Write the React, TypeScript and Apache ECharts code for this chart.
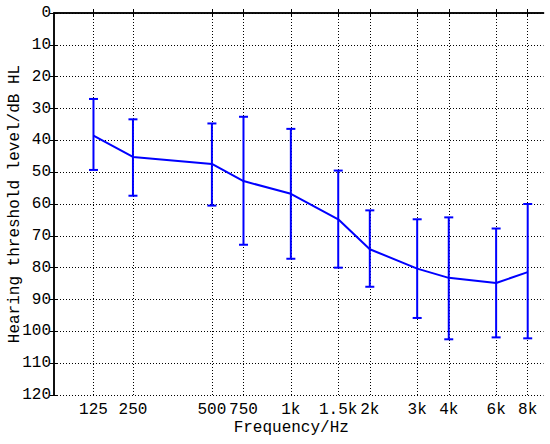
import React, { useEffect, useRef } from "react";
import * as echarts from "echarts";

const freqLabels = ["125", "250", "500", "750", "1k", "1.5k", "2k", "3k", "4k", "6k", "8k"];
const xPos = [1, 2, 4, 4.8, 6, 7.2, 8, 9.2, 10, 11.2, 12];
const meanLevel = [38.5, 45.2, 47.4, 52.8, 56.8, 64.8, 74.2, 80.3, 83.2, 84.8, 81.4];
const upperLevel = [27.0, 33.4, 34.7, 32.6, 36.4, 49.5, 62.0, 64.8, 64.2, 67.7, 60.0];
const lowerLevel = [49.3, 57.4, 60.5, 72.8, 77.2, 80.0, 86.0, 95.8, 102.5, 101.9, 102.2];
const yTicks = [0, 10, 20, 30, 40, 50, 60, 70, 80, 90, 100, 110, 120];

const FONT = "'Liberation Mono', 'Courier New', monospace";
const BLUE = "#0000ff";

export default function App() {
  const ref = useRef<HTMLDivElement>(null);
  useEffect(() => {
    const chart = echarts.init(ref.current!, null, { renderer: "svg" });
    const fmtX = (v: number) => {
      const i = xPos.findIndex((p) => Math.abs(p - v) < 1e-6);
      return i >= 0 ? freqLabels[i] : "";
    };
    const axisLine = { show: true, lineStyle: { color: "#000", width: 1.5 } };
    const dotted = { show: true, lineStyle: { color: "#000", width: 1, type: [1, 2] as any } };
    const txt = { fontFamily: FONT, fontSize: 16, color: "#000", fontWeight: "normal" as const };
    chart.setOption({
      animation: false,
      backgroundColor: "#fff",
      grid: { left: 54, top: 13, right: 6.5, bottom: 49, containLabel: false, outerBoundsMode: "none" } as any,
      xAxis: [
        {
          type: "value",
          min: 0,
          max: 12.4,
          position: "bottom",
          name: "Frequency/Hz",
          nameLocation: "middle",
          nameGap: 25,
          nameMoveOverlap: false,
          nameTextStyle: { ...txt, padding: [0, 15, 0, 0] },
          axisLine,
          axisTick: { show: true, inside: true, length: 4, customValues: xPos, lineStyle: { color: "#000" } },
          axisLabel: { customValues: xPos, formatter: fmtX, ...txt, margin: 7 },
          splitLine: { ...dotted, customValues: xPos } as any,
        } as any,
        {
          type: "value",
          min: 0,
          max: 12.4,
          position: "top",
          axisLine,
          axisTick: { show: true, inside: true, length: 4, customValues: xPos, lineStyle: { color: "#000" } },
          axisLabel: { show: false },
          splitLine: { show: false },
        },
      ],
      yAxis: [
        {
          type: "value",
          min: 0,
          max: 120,
          interval: 10,
          inverse: true,
          position: "left",
          name: "Hearing threshold level/dB HL",
          nameLocation: "middle",
          nameGap: 31,
          nameMoveOverlap: false,
          nameRotate: 90,
          nameTextStyle: txt,
          axisLine,
          axisTick: { show: true, inside: true, length: 4, lineStyle: { color: "#000" } },
          axisLabel: { ...txt, margin: 3, formatter: (v: number) => (yTicks.includes(v) ? String(v) : "") },
          splitLine: dotted,
        } as any,
        {
          type: "value",
          min: 0,
          max: 120,
          interval: 10,
          inverse: true,
          position: "right",
          axisLine,
          axisTick: { show: true, inside: true, length: 4, lineStyle: { color: "#000" } },
          axisLabel: { show: false },
          splitLine: { show: false },
        },
      ],
      series: [
        {
          type: "line",
          data: xPos.map((x, i) => [x, meanLevel[i]]),
          showSymbol: false,
          symbol: "none",
          lineStyle: { color: BLUE, width: 2 },
          z: 3,
        },
        {
          type: "custom",
          data: xPos.map((x, i) => [x, upperLevel[i], lowerLevel[i]]),
          encode: { x: 0, y: [1, 2] },
          z: 4,
          renderItem: (params: any, api: any) => {
            const x = api.value(0);
            const top = api.coord([x, api.value(1)]);
            const bot = api.coord([x, api.value(2)]);
            const hw = 4.5;
            const style = { stroke: BLUE, lineWidth: 2 };
            return {
              type: "group",
              children: [
                { type: "line", shape: { x1: top[0], y1: top[1], x2: bot[0], y2: bot[1] }, style },
                { type: "line", shape: { x1: top[0] - hw, y1: top[1], x2: top[0] + hw, y2: top[1] }, style },
                { type: "line", shape: { x1: bot[0] - hw, y1: bot[1], x2: bot[0] + hw, y2: bot[1] }, style },
              ],
            };
          },
        },
      ],
    });
    return () => chart.dispose();
  }, []);
  return <div ref={ref} style={{ position: "fixed", left: 0, top: 0, width: 550, height: 444 }} />;
}
